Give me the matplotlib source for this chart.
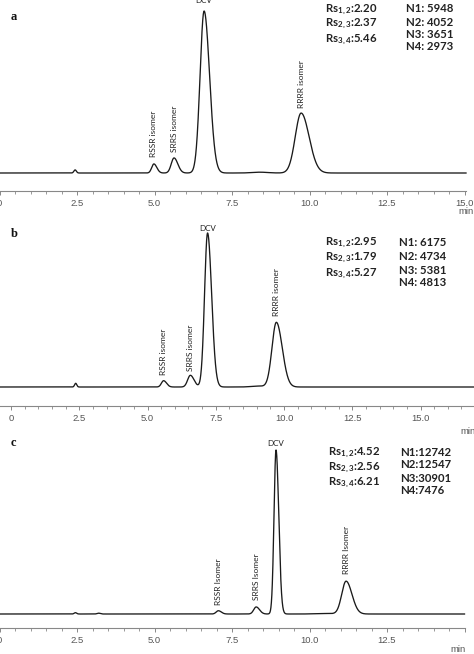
import numpy as np
import matplotlib.pyplot as plt
from matplotlib.ticker import MultipleLocator, FuncFormatter

plt.rcParams['font.family'] = ['Lato', 'DejaVu Sans']
plt.rcParams['mathtext.fontset'] = 'custom'
plt.rcParams['mathtext.rm'] = 'Lato:bold'
plt.rcParams['mathtext.default'] = 'rm'

W, H = 474, 654

# ---- data (rt in min, height in % of DCV peak) ----
names_ab = ['RSSR isomer', 'SRRS isomer', 'DCV', 'RRRR isomer']
names_c = ['RSSR Isomer', 'SRRS Isomer', 'DCV', 'RRRR Isomer']

a_rt = [4.98, 5.63, 6.60, 9.73]
a_height = [5.6, 9.3, 100, 37]
a_sigma = [0.07, 0.09, 0.13, 0.19]
a_bump_rt = [2.44, 8.40]
a_bump_h = [1.9, 0.5]
a_bump_sigma = [0.04, 0.25]

b_rt = [5.59, 6.57, 7.20, 9.72]
b_height = [4.1, 7.6, 100, 42]
b_sigma = [0.08, 0.10, 0.11, 0.16]
b_bump_rt = [2.37, 9.05]
b_bump_h = [2.4, 0.6]
b_bump_sigma = [0.04, 0.25]

c_rt = [7.06, 8.28, 8.92, 11.18]
c_height = [2.0, 4.3, 100, 20]
c_sigma = [0.07, 0.08, 0.065, 0.14]
c_bump_rt = [2.45, 3.20, 10.5]
c_bump_h = [0.8, 0.5, 0.3]
c_bump_sigma = [0.04, 0.05, 0.3]

a_rs = ['2.20', '2.37', '5.46']
a_n = ['N1: 5948', 'N2: 4052', 'N3: 3651', 'N4: 2973']
b_rs = ['2.95', '1.79', '5.27']
b_n = ['N1: 6175', 'N2: 4734', 'N3: 5381', 'N4: 4813']
c_rs = ['4.52', '2.56', '6.21']
c_n = ['N1:12742', 'N2:12547', 'N3:30901', 'N4:7476']


def trace(t, rts, hs, sigs, tail=1.35):
    y = np.zeros_like(t)
    for rt, h, s in zip(rts, hs, sigs):
        sd = np.where(t < rt, s, s * tail)
        y += h * np.exp(-0.5 * ((t - rt) / sd) ** 2)
    return y


def px_axes(left, top, right, bottom):
    return fig.add_axes([left / W, 1 - bottom / H, (right - left) / W, (bottom - top) / H])


def panel(box, zero_px, px_min, base_px, px_unit, rts, hs, sigs, brt, bh, bsig,
          names, gaps, dcv_gap, last_label=True):
    left, top, right, bottom = box
    ax = px_axes(left, top, right, bottom)
    x0 = (left - zero_px) / px_min
    x1 = (right - zero_px) / px_min
    y0 = -(bottom - base_px) / px_unit
    y1 = (base_px - top) / px_unit
    ax.set_xlim(x0, x1)
    ax.set_ylim(y0, y1)
    t = np.linspace(x0, x1, 4000)
    y = trace(t, rts, hs, sigs) + trace(t, brt, bh, bsig, 1.0)
    ax.plot(t, y, color='#1a1a1a', lw=0.95, clip_on=False)
    for s in ['top', 'left', 'right']:
        ax.spines[s].set_visible(False)
    ax.spines['bottom'].set_color('#888888')
    ax.spines['bottom'].set_linewidth(0.8)
    ax.set_yticks([])
    ax.xaxis.set_major_locator(MultipleLocator(2.5))
    ax.xaxis.set_minor_locator(MultipleLocator(0.5))
    if last_label:
        fmt = FuncFormatter(lambda v, p: '0' if abs(v) < 1e-9 else f'{v:.1f}')
    else:
        fmt = FuncFormatter(lambda v, p: '' if v > 14.9 else ('0' if abs(v) < 1e-9 else f'{v:.1f}'))
    ax.xaxis.set_major_formatter(fmt)
    ax.tick_params(axis='x', which='major', direction='out', length=3, width=0.7,
                   color='#888888', labelsize=6.8, labelcolor='#555555', pad=2.6)
    ax.tick_params(axis='x', which='minor', direction='out', length=2.2, width=0.6,
                   color='#888888')
    for lab in ax.get_xticklabels():
        lab.set_family('Liberation Sans')
    ax.patch.set_visible(False)
    for rt, h, name, g in zip(rts, hs, names, gaps):
        if name == 'DCV':
            ax.annotate(name, (rt, h), xytext=(0, dcv_gap), textcoords='offset pixels',
                        ha='center', va='bottom', fontsize=5.8, color='#222222',
                        annotation_clip=False)
        else:
            ax.annotate(name, (rt, h), xytext=(0, g), textcoords='offset pixels',
                        ha='center', va='bottom', rotation=90, fontsize=6.0,
                        color='#222222', annotation_clip=False)
    return ax


fig = plt.figure(figsize=(W / 100, H / 100), dpi=100)

panel((-3, 0, 466, 191), -0.5, 31.0, 173, 1.62, a_rt, a_height, a_sigma,
      a_bump_rt, a_bump_h, a_bump_sigma, names_ab, [7, 6, 0, 5], 7)
panel((0, 212, 474, 406), 11, 27.3, 387, 1.54, b_rt, b_height, b_sigma,
      b_bump_rt, b_bump_h, b_bump_sigma, names_ab, [6, 4, 0, 6], 1)
panel((-3, 435, 464.5, 628), -0.5, 31.0, 614, 1.64, c_rt, c_height, c_sigma,
      c_bump_rt, c_bump_h, c_bump_sigma, names_c, [6, 7, 0, 7], 3, last_label=False)


def ftext(x, y, s, **kw):
    fig.text(x / W, 1 - y / H, s, **kw)


def stats(rs, ns, rs_x, rs_y, n_x, n_y):
    pairs = ['1,2', '2,3', '3,4']
    for v, p, yy in zip(rs, pairs, rs_y):
        ftext(rs_x, yy, r'Rs$_{' + p + '}$:' + v, fontsize=8.2, fontweight='bold',
              color='#222222', va='center', ha='left')
    for s, yy in zip(ns, n_y):
        ftext(n_x, yy, s, fontsize=8.2, fontweight='bold', color='#222222',
              va='center', ha='left')


stats(a_rs, a_n, 325, [10, 24, 40], 406, [9, 22, 34, 47])
stats(b_rs, b_n, 325, [243, 258, 274], 399, [243, 257, 270, 282])
stats(c_rs, c_n, 328, [453, 468, 483], 400, [452, 465, 478, 491])

for s, x, y in [('a', 14, 17), ('b', 14, 234), ('c', 13, 443)]:
    ftext(x, y, s, fontsize=9, fontweight='bold', family='Liberation Serif',
          va='center', ha='center', color='#111111')

for x, y in [(466, 212), (468, 432), (458, 650)]:
    ftext(x, y, 'min', fontsize=6.8, color='#555555', family='Liberation Sans',
          va='center', ha='center')

fig.savefig('out.png', dpi=100)
